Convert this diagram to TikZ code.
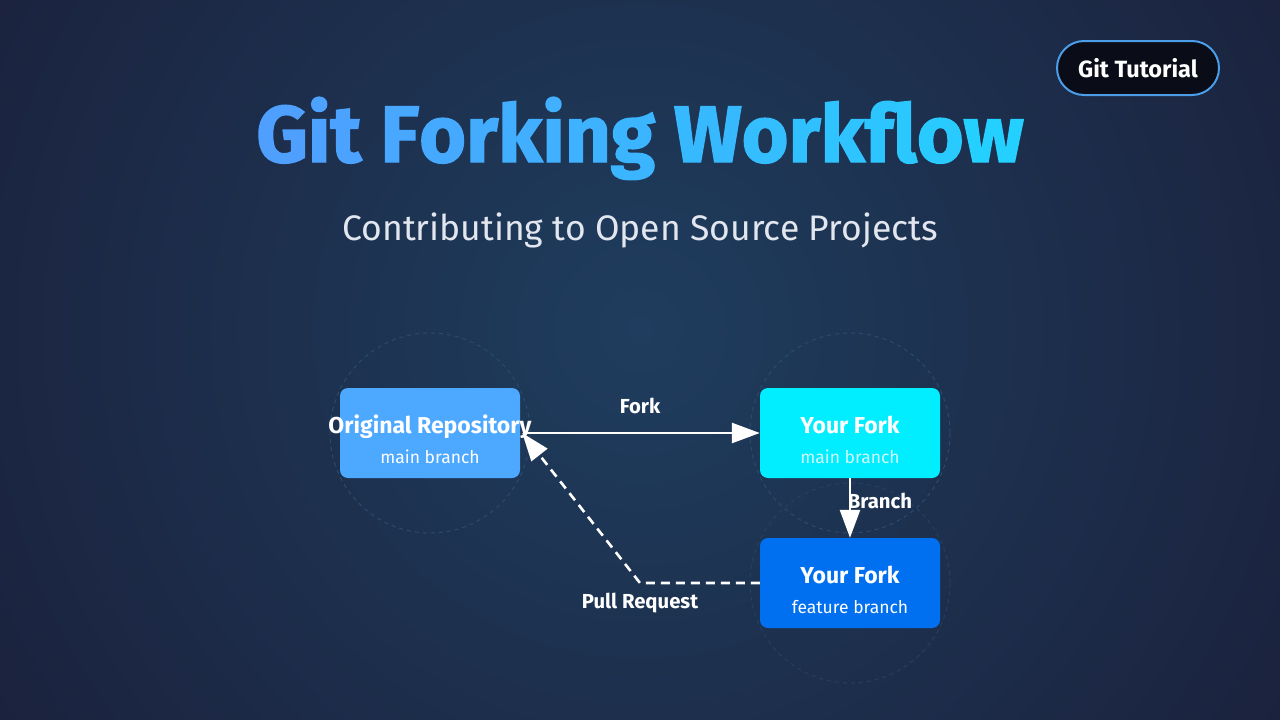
\documentclass[tikz,border=0pt]{standalone}
\usepackage{fontspec}
\setmainfont{Fira Sans}
\newfontfamily\titlefont[FakeBold=1.8]{Fira Sans}
\usetikzlibrary{arrows.meta}
\definecolor{bg}{HTML}{1A1E38}
\definecolor{glow}{HTML}{1F3D5E}
\definecolor{tA}{HTML}{4F9FFF}
\definecolor{tB}{HTML}{1FD4FF}
\definecolor{subc}{HTML}{E2E6EE}
\definecolor{origc}{HTML}{4DA8FF}
\definecolor{forkc}{HTML}{00EEFF}
\definecolor{featc}{HTML}{0070F0}
\definecolor{ringc}{HTML}{2E4C6E}
\definecolor{badgefill}{HTML}{0A0D18}
\definecolor{badgeline}{HTML}{4A9DE6}
\definecolor{lightcyan}{HTML}{D2FAFF}
\definecolor{tglow}{HTML}{1E4A78}
\newcommand\gl[2]{\textcolor{tA!#1!tB}{#2}}
\tikzset{
  box/.style={rectangle, rounded corners=8pt, minimum width=180pt, minimum height=90pt, inner sep=0pt},
  hd/.style={anchor=base, text=white, font=\bfseries\fontsize{23}{27}\selectfont, inner sep=0pt},
  sub/.style={anchor=base, text=white, font=\fontsize{17.5}{21}\selectfont, inner sep=0pt},
  ring/.style={draw=ringc, dash pattern=on 4pt off 4pt, line width=0.9pt},
  conn/.style={draw=white, line width=2.6pt, -{Triangle[length=28pt,width=20pt]}},
  elab/.style={anchor=base, text=white, font=\bfseries\fontsize{20.3}{24}\selectfont, inner sep=0pt},
  tfont/.style={anchor=base, inner sep=0pt, font=\titlefont\bfseries\fontsize{80}{86}\selectfont},
}
\begin{document}
\begin{tikzpicture}[x=1pt,y=-1pt]
\useasboundingbox (0,0) rectangle (1280,720);
\fill[bg] (0,0) rectangle (1280,720);
\begin{scope}
\clip (0,0) rectangle (1280,720);
\shade[inner color=glow, outer color=bg] (640,330) circle (860pt);
\end{scope}

% title
\node[tfont] (title) at (640,162)
 {\gl{100}{G}\gl{96}{i}\gl{93}{t} \gl{85}{F}\gl{80}{o}\gl{76}{r}\gl{72}{k}\gl{68}{i}\gl{64}{n}\gl{59}{g} \gl{50}{W}\gl{43}{o}\gl{38}{r}\gl{33}{k}\gl{28}{f}\gl{24}{l}\gl{18}{o}\gl{8}{w}};
\node[anchor=base, inner sep=0pt, text=subc, font=\fontsize{35.5}{42}\selectfont] (subtitle) at (640,240) {Contributing to Open Source Projects};

% badge
\node[draw=badgeline, fill=badgefill, line width=2pt, rounded corners=27pt, minimum width=162pt, minimum height=54pt, text=white, font=\bfseries\fontsize{23.5}{28}\selectfont] (badge) at (1138,68) {Git Tutorial};

% rings
\draw[ring] (430,433) circle (100pt);
\draw[ring] (850,433) circle (100pt);
\draw[ring, draw opacity=0.6] (850,583) circle (100pt);

% boxes
\node[box, fill=origc] (orig) at (430,433) {};
\node[box, fill=forkc] (yfm) at (850,433) {};
\node[box, fill=featc] (feat) at (850,583) {};

\node[hd] (origT) at (430,433) {Original Repository};
\node[sub] (origS) at (430,463) {main branch};
\node[hd] (yfmT) at (850,433) {Your Fork};
\node[sub, text=lightcyan] (yfmS) at (850,463) {main branch};
\node[hd] (featT) at (850,583) {Your Fork};
\node[sub] (featS) at (850,613) {feature branch};

% connectors
\coordinate (bend) at (640,583);
\draw[conn] ([xshift=3pt]orig.east) -- (yfm.west);
\draw[conn] (yfm.south) -- (feat.north);
\draw[conn, dash pattern=on 9pt off 6pt] (feat.west) -- (bend) -- ([xshift=2pt]orig.east);

\node[elab] (lfork) at (640,413) {Fork};
\node[elab] (lbranch) at (880,508) {Branch};
\node[elab] (lpr) at (640,608) {Pull Request};
\end{tikzpicture}
\end{document}
